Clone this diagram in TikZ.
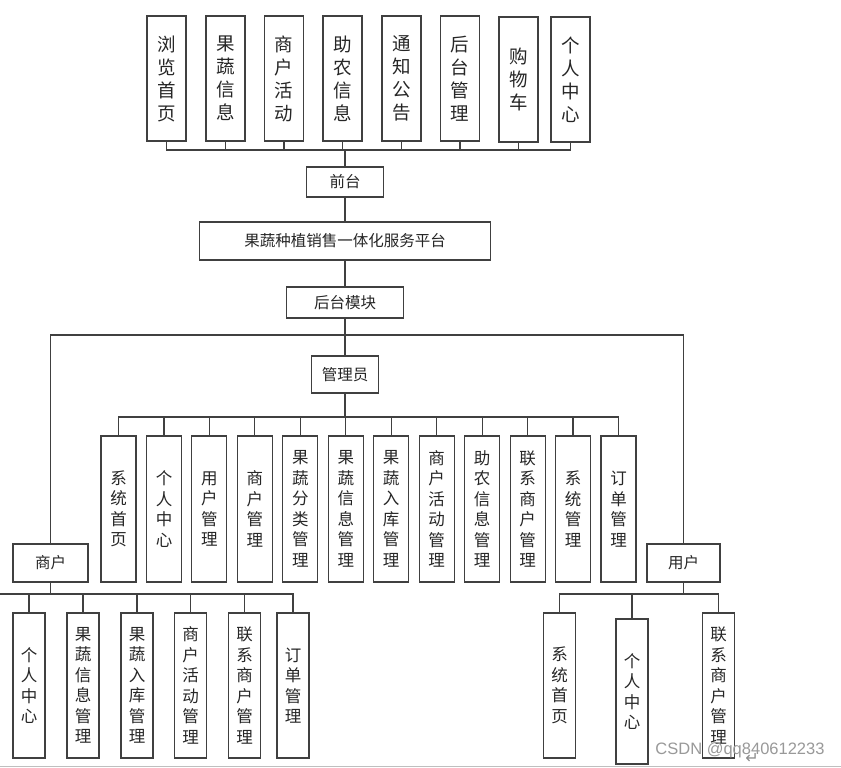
\documentclass[tikz,border=0pt]{standalone}
\usepackage{fontspec}
\newfontfamily\cjk{Noto Sans CJK SC}
\newfontfamily\wmfont{Liberation Sans}
\newfontfamily\symfont{DejaVu Sans}
\begin{document}
\begin{tikzpicture}[x=1pt,y=-1pt,
  box/.style={draw=black!75, line width=1.1pt, inner sep=0pt, align=center, text=black!85},
  tbox/.style={box, minimum width=39pt, minimum height=125pt, font=\cjk\fontsize{18.5}{23}\selectfont},
  abox/.style={box, minimum width=35pt, minimum height=146pt, font=\cjk\fontsize{16.5}{20.5}\selectfont},
  cbox/.style={box, minimum width=32pt, minimum height=145pt, font=\cjk\fontsize{16.5}{20.5}\selectfont},
  hbox/.style={box, font=\cjk\fontsize{15.5}{18}\selectfont},
  conn/.style={draw=black!75, line width=1.1pt}]
\useasboundingbox (0,0) rectangle (841,768);
\fill[white] (0,0) rectangle (841,768);

% top row
\node[tbox] (t1) at (166.5,78.5) {浏\\览\\首\\页};
\node[tbox] (t2) at (225.5,78.5) {果\\蔬\\信\\息};
\node[tbox] (t3) at (284,78.5) {商\\户\\活\\动};
\node[tbox] (t4) at (342.5,78.5) {助\\农\\信\\息};
\node[tbox] (t5) at (401.5,78.5) {通\\知\\公\\告};
\node[tbox] (t6) at (460,78.5) {后\\台\\管\\理};
\node[tbox] (t7) at (518.5,79.5) {购\\物\\车};
\node[tbox] (t8) at (570.5,79.5) {个\\人\\中\\心};
\coordinate (tb) at (345,150);
\foreach \n in {t1,t2,t3,t4,t5,t6,t7,t8} \draw[conn] (\n.south) |- (tb);

\node[hbox, minimum width=77pt, minimum height=30pt] (qt) at (345,182) {前台};
\node[hbox, minimum width=291pt, minimum height=38pt] (pf) at (345,241) {果蔬种植销售一体化服务平台};
\node[hbox, minimum width=117pt, minimum height=31pt] (hm) at (345,302.5) {后台模块};
\node[hbox, minimum width=67pt, minimum height=37pt] (gl) at (345,374.5) {管理员};
\draw[conn] (tb) -- (qt.north);
\draw[conn] (qt.south) -- (pf.north);
\draw[conn] (pf.south) -- (hm.north);
\draw[conn] (hm.south) -- (gl.north);

% admin row
\coordinate (ab) at (345,417);
\node[abox] (a1) at (118.5,509) {系\\统\\首\\页};
\node[abox] (a2) at (164,509) {个\\人\\中\\心};
\node[abox] (a3) at (209.4,509) {用\\户\\管\\理};
\node[abox] (a4) at (254.9,509) {商\\户\\管\\理};
\node[abox] (a5) at (300.3,509) {果\\蔬\\分\\类\\管\\理};
\node[abox] (a6) at (345.8,509) {果\\蔬\\信\\息\\管\\理};
\node[abox] (a7) at (391.2,509) {果\\蔬\\入\\库\\管\\理};
\node[abox] (a8) at (436.7,509) {商\\户\\活\\动\\管\\理};
\node[abox] (a9) at (482.1,509) {助\\农\\信\\息\\管\\理};
\node[abox] (a10) at (527.6,509) {联\\系\\商\\户\\管\\理};
\node[abox] (a11) at (573,509) {系\\统\\管\\理};
\node[abox] (a12) at (618.5,509) {订\\单\\管\\理};
\draw[conn] (gl.south) -- (ab);
\foreach \n in {a1,a2,a3,a4,a5,a6,a7,a8,a9,a10,a11,a12} \draw[conn] (\n.north) |- (ab);

% merchant and user
\coordinate (split) at (345,335);
\node[hbox, minimum width=75pt, minimum height=38pt] (sh) at (50.5,563) {商户};
\node[hbox, minimum width=73pt, minimum height=38pt] (yh) at (683.5,563) {用户};
\draw[conn] (sh.north) |- (split) -| (yh.north);

\coordinate (sb) at (50.5,594);
\coordinate (sl) at (0,594);
\node[cbox] (s1) at (29,685.5) {个\\人\\中\\心};
\node[cbox] (s2) at (83,685.5) {果\\蔬\\信\\息\\管\\理};
\node[cbox] (s3) at (137,685.5) {果\\蔬\\入\\库\\管\\理};
\node[cbox] (s4) at (190.5,685.5) {商\\户\\活\\动\\管\\理};
\node[cbox] (s5) at (244.5,685.5) {联\\系\\商\\户\\管\\理};
\node[cbox] (s6) at (293,685.5) {订\\单\\管\\理};
\draw[conn] (sh.south) -- (sb);
\draw[conn] (sl) -- (sb);
\foreach \n in {s1,s2,s3,s4,s5,s6} \draw[conn] (\n.north) |- (sb);

\coordinate (ub) at (683.5,594);
\node[cbox] (u1) at (559.5,685.5) {系\\统\\首\\页};
\node[cbox] (u2) at (632,691.5) {个\\人\\中\\心};
\node[cbox] (u3) at (718.5,685.5) {联\\系\\商\\户\\管\\理};
\draw[conn] (yh.south) -- (ub);
\foreach \n in {u1,u2,u3} \draw[conn] (\n.north) |- (ub);

% bottom line and watermark
\coordinate (bl) at (0,766.5);
\coordinate (br) at (841,766.5);
\draw[black!25, line width=1pt] (bl) -- (br);
\node[font=\wmfont\fontsize{16.5}{18}\selectfont, text=black!40, inner sep=0pt] (wm) at (740,750) {CSDN @qq840612233};
\node[font=\symfont\fontsize{16}{18}\selectfont, text=black!45, inner sep=0pt] (ret) at (752,758) {↵};
\end{tikzpicture}
\end{document}
